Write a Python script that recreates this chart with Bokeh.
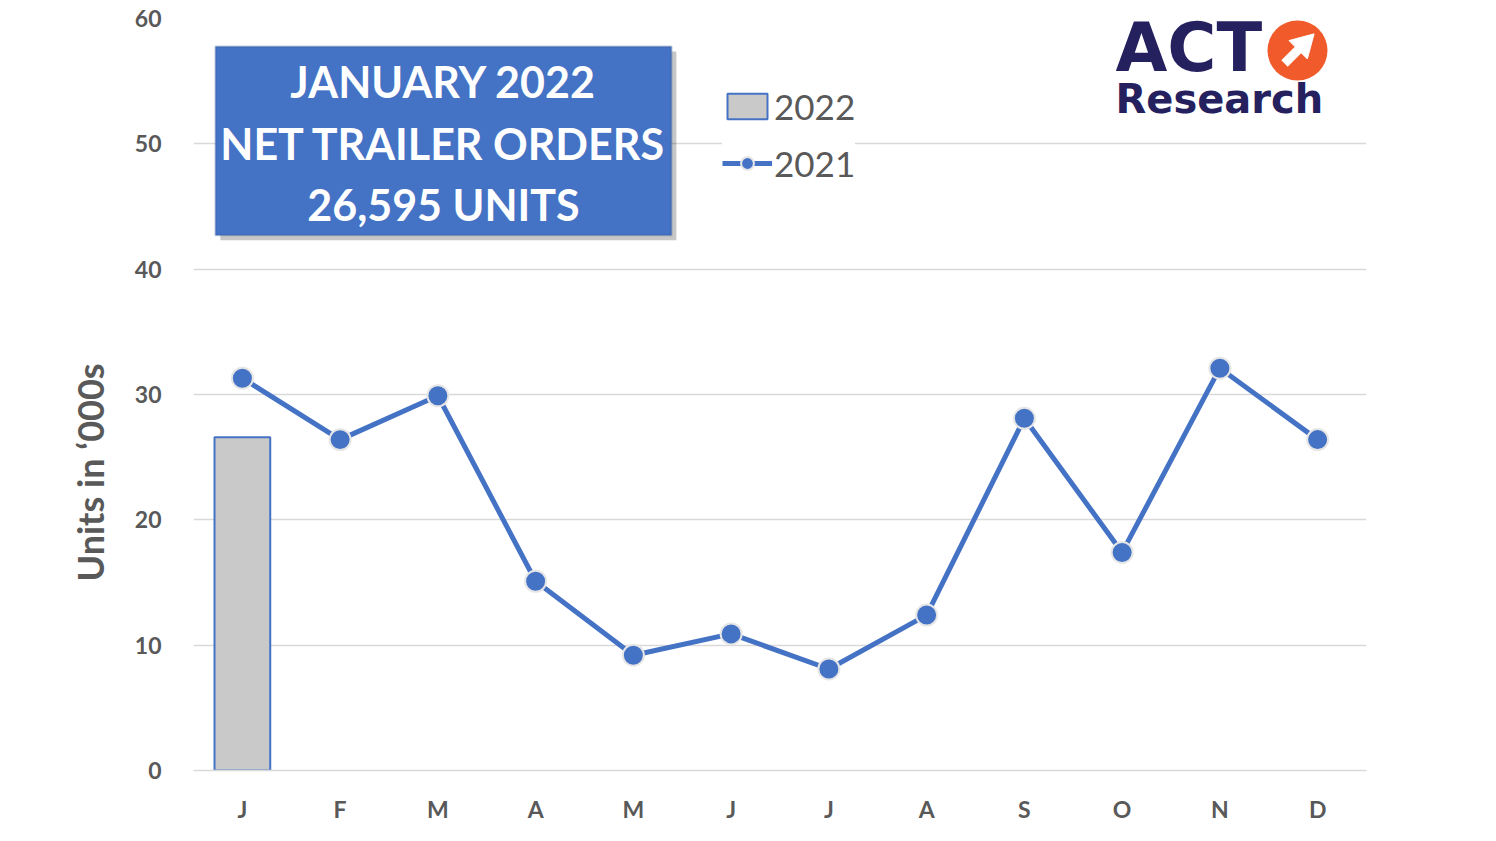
import numpy as np
from bokeh.plotting import figure
from bokeh.models import Range1d, FixedTicker, Legend, LegendItem, BoxAnnotation, Label, Title
from bokeh.embed import file_html
from bokeh.resources import INLINE

months = ["J", "F", "M", "A", "M", "J", "J", "A", "S", "O", "N", "D"]
orders_2021 = [31.3, 26.4, 29.9, 15.1, 9.2, 10.9, 8.1, 12.4, 28.1, 17.4, 32.1, 26.4]
orders_2022 = [26.595]
y_ticks = [0, 10, 20, 30, 40, 50, 60]
title_lines = ["JANUARY 2022", "NET TRAILER ORDERS", "26,595 UNITS"]
y_title = "Units in \u2018000s"

BLUE = "#4472C4"
GREY_TXT = "#595959"
GRID = "#D9D9D9"

x_pos = list(range(len(months)))

p = figure(width=1480, height=825, x_range=Range1d(-0.5, 11.5), y_range=Range1d(0, 60),
           output_backend="svg", toolbar_location=None,
           min_border_left=193, min_border_right=114, min_border_top=18, min_border_bottom=54)
p.outline_line_color = None
p.background_fill_color = "white"
p.border_fill_color = "white"

bar = p.vbar(x=x_pos[:len(orders_2022)], top=orders_2022, width=0.57,
             fill_color="#C9C9C9", line_color=BLUE, line_width=2)
ln = p.line(x_pos, orders_2021, line_color=BLUE, line_width=5)
pts = p.scatter(x_pos, orders_2021, size=21, fill_color=BLUE, line_color="#E6E6E6", line_width=2)

# axes
p.xaxis.ticker = FixedTicker(ticks=x_pos)
p.xaxis.major_label_overrides = {i: m for i, m in zip(x_pos, months)}
p.xaxis.axis_line_color = GRID
p.xaxis.axis_line_width = 1.5
p.xaxis.major_tick_line_color = None
p.xaxis.minor_tick_line_color = None
p.xaxis.major_label_standoff = 18
p.xaxis.major_label_text_font = "Lato"
p.xaxis.major_label_text_font_style = "bold"
p.xaxis.major_label_text_font_size = "23px"
p.xaxis.major_label_text_color = GREY_TXT

p.yaxis.ticker = FixedTicker(ticks=y_ticks)
p.yaxis.axis_line_color = None
p.yaxis.major_tick_line_color = None
p.yaxis.minor_tick_line_color = None
p.yaxis.major_label_standoff = 26
p.yaxis.major_label_text_font = "Lato"
p.yaxis.major_label_text_font_style = "bold"
p.yaxis.major_label_text_font_size = "23px"
p.yaxis.major_label_text_color = GREY_TXT

p.xgrid.grid_line_color = None
p.ygrid.grid_line_color = GRID
p.ygrid.grid_line_width = 1.5

# y-axis title, as a side title so it can sit lower than the frame centre
p.add_layout(Title(text=y_title, align="left", offset=189, standoff=39,
                   text_color=GREY_TXT, text_font="Lato", text_font_style="bold",
                   text_font_size="36px"), "left")

# legend
legend = Legend(items=[LegendItem(label="2022", renderers=[bar]),
                       LegendItem(label="2021", renderers=[ln, pts])],
                location=(529, 586), glyph_width=50, glyph_height=32,
                label_height=40, spacing=15, label_standoff=2, padding=20,
                label_text_font="Lato", label_text_font_size="35px",
                label_text_color=GREY_TXT, border_line_color=None,
                background_fill_color="white", background_fill_alpha=1.0)
p.add_layout(legend)

# title box with shadow
p.add_layout(BoxAnnotation(left=-0.275 + 0.05, right=4.39 + 0.05, top=57.77 - 0.4, bottom=42.7 - 0.4,
                           fill_color="black", fill_alpha=0.22, line_color=None))
p.add_layout(BoxAnnotation(left=-0.275, right=4.39, top=57.77, bottom=42.7,
                           fill_color=BLUE, fill_alpha=1.0, line_color="#2F528F", line_width=2))
for txt, yc in zip(title_lines, [54.98, 50.04, 45.18]):
    p.add_layout(Label(x=2.057, y=yc, text=txt, text_align="center", text_baseline="middle",
                       text_color="white", text_font="Lato", text_font_style="bold",
                       text_font_size="43px"))

# ACT Research logo
p.add_layout(Label(x=8.932, y=57.61, text="ACT", text_align="left", text_baseline="middle",
                   text_color="#25215F", text_font="DejaVu Sans", text_font_style="bold",
                   text_font_size="67px"))
p.add_layout(Label(x=8.932, y=53.55, text="Research", text_align="left", text_baseline="middle",
                   text_color="#25215F", text_font="DejaVu Sans", text_font_style="bold",
                   text_font_size="40px"))
cx, cy = 10.794, 57.45
ux, uy = 1 / 97.75, 1 / 12.55
p.scatter(x=[cx], y=[cy], size=60, fill_color="#F15A2B", line_color=None)
p.segment(x0=[cx - 13 * ux], y0=[cy - 13 * uy], x1=[cx + 3 * ux], y1=[cy + 3 * uy],
          line_color="white", line_width=9)
p.scatter(x=[cx + 6 * ux], y=[cy + 6 * uy], marker="triangle", size=26, angle=-np.pi / 4,
          fill_color="white", line_color="white")

open("out.html", "w").write(file_html(p, INLINE))
